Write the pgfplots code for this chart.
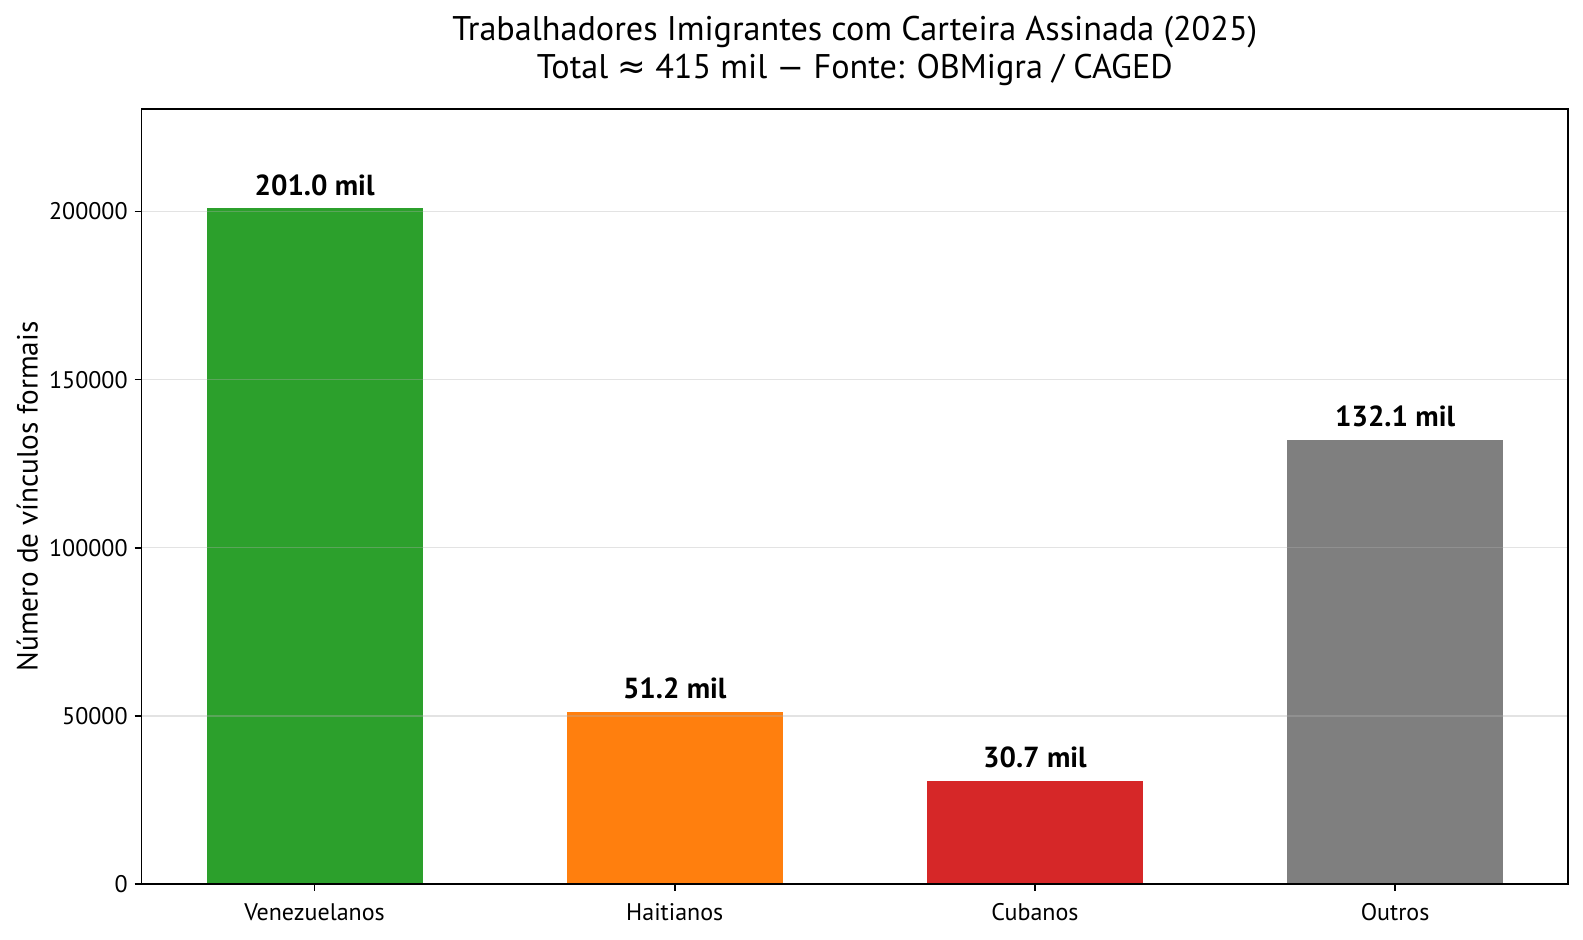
\documentclass[border=0pt]{standalone}
\usepackage{fontspec}
\setmainfont{PT Sans}
\newfontfamily\symfont{DejaVu Sans}
\usepackage{pgfplots}
\pgfplotsset{compat=1.18}
\definecolor{cgreen}{HTML}{2CA02C}
\definecolor{corange}{HTML}{FF7F0E}
\definecolor{cred}{HTML}{D62728}
\definecolor{cgray}{HTML}{7F7F7F}
\definecolor{cgrid}{HTML}{B0B0B0}
\begin{document}
\begin{tikzpicture}
\begin{axis}[
  at={(0,0)}, anchor=south west,
  width=713.15pt, height=387.5pt, scale only axis,
  xmin=-0.48, xmax=3.48, ymin=0, ymax=230500,
  ybar, bar width=0.6, bar shift=0pt,
  axis on top,
  xtick={0,1,2,3},
  xticklabels={Venezuelanos,Haitianos,Cubanos,Outros},
  ytick={0,50000,100000,150000,200000},
  scaled y ticks=false,
  yticklabel style={/pgf/number format/.cd,fixed,1000 sep={},assume math mode=true},
  xticklabel style={yshift=-2.8pt},
  tick align=outside, major tick length=3.5pt,
  xtick pos=left, ytick pos=left,
  tick style={black, line width=0.8pt},
  axis line style={black, line width=0.8pt},
  ymajorgrids, grid style={cgrid, opacity=0.35, line width=0.7pt},
  tick label style={font=\fontsize{12}{14}\selectfont},
  ylabel={Número de vínculos formais},
  ylabel style={font=\fontsize{14.6}{16}\selectfont, at={(axis description cs:-0.0802,0.5)}, anchor=center},
  title={Trabalhadores Imigrantes com Carteira Assinada (2025)\\Total {\symfont ≈} 415 mil — Fonte: OBMigra / CAGED},
  title style={align=center, font=\fontsize{17.1}{19}\selectfont, at={(axis description cs:0.5,1)}, anchor=south, inner sep=0pt, text depth=0pt, yshift=9.1pt},
  nodes near coords, point meta=explicit symbolic,
  nodes near coords style={font=\bfseries\fontsize{14.5}{16}\selectfont, anchor=center, yshift=11.5pt, text=black},
]
\addplot[fill=cgreen, draw=none] coordinates {(0,201000) [201.0 mil]};
\addplot[fill=corange, draw=none] coordinates {(1,51200) [51.2 mil]};
\addplot[fill=cred, draw=none] coordinates {(2,30700) [30.7 mil]};
\addplot[fill=cgray, draw=none] coordinates {(3,132100) [132.1 mil]};
\end{axis}
\path (-70.85pt,-28pt) rectangle (720.65pt,442pt);
\end{tikzpicture}
\end{document}
